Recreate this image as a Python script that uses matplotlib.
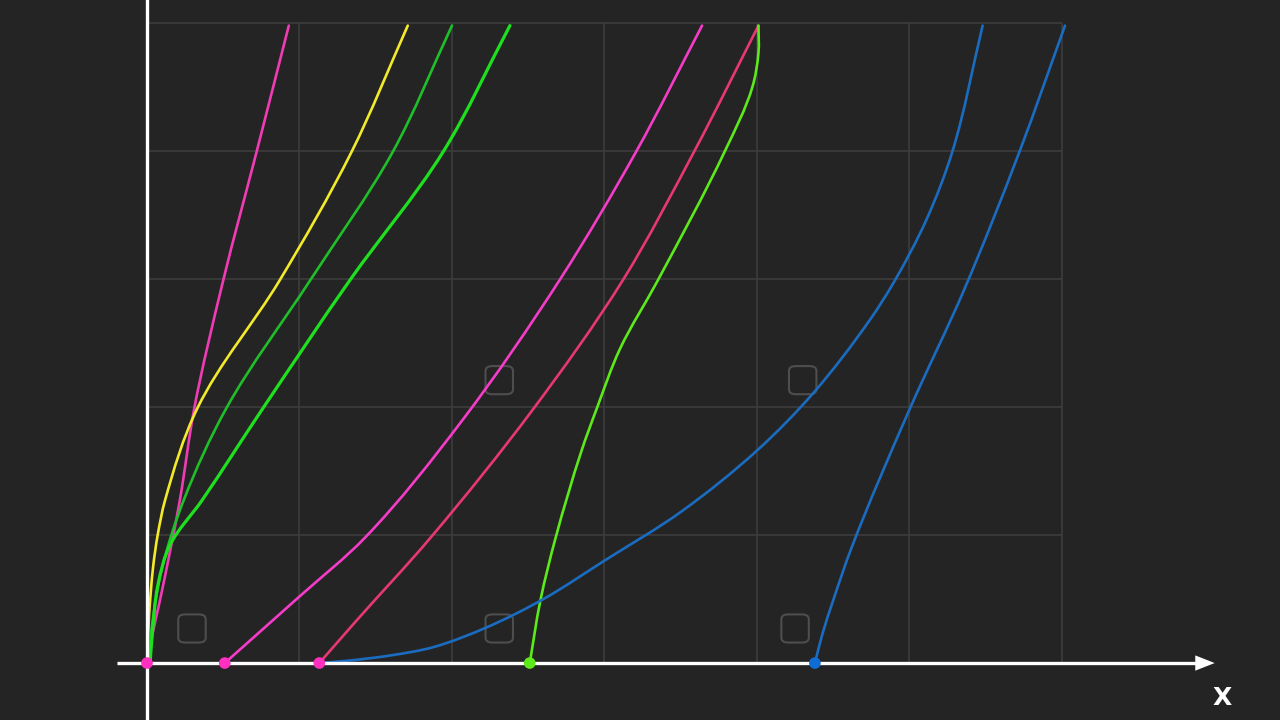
import numpy as np
import matplotlib
matplotlib.use("Agg")
import matplotlib.pyplot as plt
from matplotlib.patches import FancyBboxPatch, PathPatch
from matplotlib.path import Path

# curves, (x, y) in grid units
pink_a_x = [0.0, 0.04, 0.085, 0.215, 0.31, 0.5, 0.72, 0.93]
pink_a_y = [0.0, 0.25, 0.49, 1.27, 1.99, 2.99, 4.0, 4.98]

yellow_x = [0.0, 0.004, 0.013, 0.04, 0.07, 0.118, 0.33, 0.87, 1.34, 1.71]
yellow_y = [0.0, 0.1, 0.36, 0.75, 1.0, 1.27, 1.99, 2.99, 3.99, 4.98]

green_a_x = [0.01, 0.02, 0.04, 0.1, 0.24, 0.52, 1.07, 1.61, 2.0]
green_a_y = [0.0, 0.15, 0.36, 0.75, 1.27, 1.99, 2.99, 3.99, 4.98]

green_b_x = [0.02, 0.035, 0.07, 0.15, 0.36, 0.76, 1.33, 1.94, 2.38]
green_b_y = [0.0, 0.23, 0.6, 0.92, 1.27, 1.99, 2.99, 3.99, 4.98]

pink_b_x = [0.51, 1.0, 1.43, 2.07, 2.71, 3.21, 3.64]
pink_b_y = [0.0, 0.52, 0.98, 1.9, 3.0, 4.0, 4.98]

rose_x = [1.13, 1.38, 1.86, 2.53, 3.12, 3.59, 4.01]
rose_y = [0.0, 0.34, 0.98, 1.98, 2.99, 4.0, 4.98]

lime_x = [2.51, 2.58, 2.68, 2.85, 2.95, 3.1, 3.35, 3.79, 3.97, 4.01, 4.01]
lime_y = [0.0, 0.49, 0.98, 1.66, 1.99, 2.45, 2.99, 4.0, 4.5, 4.77, 4.98]

blue_a_x = [1.13, 1.33, 1.6, 1.88, 2.23, 2.6, 3.0, 3.5, 4.0, 4.37, 4.74, 4.9, 5.11, 5.28, 5.48]
blue_a_y = [0.0, 0.02, 0.06, 0.125, 0.28, 0.5, 0.8, 1.18, 1.66, 2.11, 2.68, 2.98, 3.46, 3.99, 4.98]

blue_b_x = [4.38, 4.43, 4.5, 4.62, 5.0, 5.36, 5.72, 6.02]
blue_b_y = [0.0, 0.23, 0.49, 0.9, 1.98, 2.92, 3.99, 4.98]

# start points on the x axis
dot_x = [0.0, 0.51, 1.13, 2.51, 4.38]
dot_colors = ["#ff2fc0", "#ff2fc0", "#ff2fc0", "#5cea1a", "#0f6cd4"]

# empty placeholder boxes (centres)
box_x = [0.295, 2.31, 4.25, 2.31, 4.3]
box_y = [0.27, 0.27, 0.27, 2.21, 2.21]

SX, SY = 152.5, 128.0  # pixels per grid unit


def smooth_path(xs, ys):
    # bezier through the read points, handles sized by segment length
    p = np.column_stack([np.array(xs) * SX, np.array(ys) * SY])
    n = len(p)
    seg = np.diff(p, axis=0)
    ln = np.hypot(seg[:, 0], seg[:, 1])
    u = seg / ln[:, None]
    tang = np.zeros_like(p)
    tang[0], tang[-1] = u[0], u[-1]
    for i in range(1, n - 1):
        t = u[i - 1] + u[i]
        tang[i] = t / np.hypot(*t)
    verts = [p[0]]
    codes = [Path.MOVETO]
    for i in range(n - 1):
        d = ln[i] / 3
        verts += [p[i] + tang[i] * d, p[i + 1] - tang[i + 1] * d, p[i + 1]]
        codes += [Path.CURVE4] * 3
    verts = np.array(verts) / [SX, SY]
    return Path(verts, codes)


bg = "#252424"
fig = plt.figure(figsize=(12.8, 7.2), dpi=100, facecolor=bg)
ax = fig.add_axes([0, 0, 1, 1])
ax.set_facecolor(bg)
ax.set_xlim(-0.964, 7.430)
ax.set_ylim(-0.445, 5.180)
ax.axis("off")

# grid
grid_c = "#3d3d3d"
ax.vlines(np.arange(1, 7), 0, 5, color=grid_c, lw=1.2, zorder=1)
ax.hlines(np.arange(1, 6), 0, 6, color=grid_c, lw=1.2, zorder=1)

for cx, cy in zip(box_x, box_y):
    w, h = 0.18, 0.22
    ax.add_patch(FancyBboxPatch((cx - w / 2, cy - h / 2), w, h,
                                boxstyle="round,pad=0,rounding_size=0.045",
                                mutation_aspect=SY / SX,
                                fc="none", ec="#4e4e4e", lw=1.5, zorder=2))

curves = [
    (pink_a_x, pink_a_y, "#f03cb4", 1.9),
    (yellow_x, yellow_y, "#f2ea2a", 1.9),
    (green_a_x, green_a_y, "#1fbf2a", 1.9),
    (green_b_x, green_b_y, "#1fe01f", 2.3),
    (pink_b_x, pink_b_y, "#f53cc8", 1.9),
    (rose_x, rose_y, "#e83872", 1.9),
    (lime_x, lime_y, "#5cea1a", 1.9),
    (blue_a_x, blue_a_y, "#1a6cc0", 1.9),
    (blue_b_x, blue_b_y, "#1a6cc0", 1.9),
]
for xs, ys, col, lw in curves:
    ax.add_patch(PathPatch(smooth_path(xs, ys), fc="none", ec=col, lw=lw,
                           capstyle="round", zorder=3))

# axes with arrow
ax.plot([-0.2, 6.96], [0, 0], color="white", lw=2.4, zorder=4, solid_capstyle="butt")
ax.annotate("", xy=(7.02, 0), xytext=(6.85, 0),
            arrowprops=dict(arrowstyle="-|>,head_length=1.4,head_width=0.55",
                            color="white", lw=0), zorder=4)
ax.plot([0, 0], [-0.445, 5.18], color="white", lw=2.4, zorder=4)
ax.text(7.05, -0.27, "X", color="white", fontsize=18, fontweight="bold",
        ha="center", va="center", zorder=4)

ax.scatter(dot_x, np.zeros(len(dot_x)), s=70, c=dot_colors, zorder=5, linewidths=0)

fig.savefig("out.png", dpi=100, facecolor=bg)
